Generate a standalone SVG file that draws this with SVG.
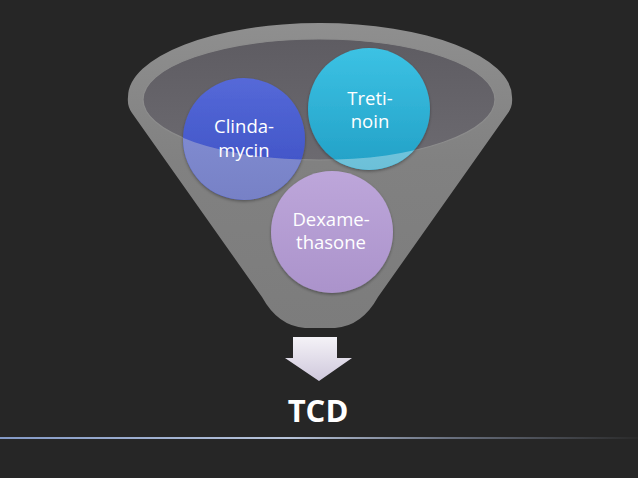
<svg xmlns="http://www.w3.org/2000/svg" width="638" height="478" viewBox="0 0 638 478">
<defs>
<linearGradient id="funnelG" x1="0" y1="23" x2="0" y2="330" gradientUnits="userSpaceOnUse">
<stop offset="0" stop-color="#8f8f8f"/><stop offset="0.45" stop-color="#818181"/><stop offset="1" stop-color="#7c7c7c"/>
</linearGradient>
<linearGradient id="innerG" x1="0" y1="0" x2="0" y2="1">
<stop offset="0" stop-color="#5e5c62"/><stop offset="1" stop-color="#6c6a70"/>
</linearGradient>
<linearGradient id="blueG" x1="0" y1="0" x2="0" y2="1">
<stop offset="0" stop-color="#5569d8"/><stop offset="1" stop-color="#3a4ec2"/>
</linearGradient>
<linearGradient id="blueW" x1="0" y1="0" x2="0" y2="1">
<stop offset="0" stop-color="#8793d8"/><stop offset="1" stop-color="#7781c6"/>
</linearGradient>
<linearGradient id="tealG" x1="0" y1="0" x2="0" y2="1">
<stop offset="0" stop-color="#3cc2e4"/><stop offset="1" stop-color="#22a0c6"/>
</linearGradient>
<linearGradient id="tealW" x1="0" y1="0" x2="0" y2="1">
<stop offset="0" stop-color="#86d2ea"/><stop offset="1" stop-color="#6cc0d8"/>
</linearGradient>
<linearGradient id="purpG" x1="0" y1="0" x2="0" y2="1">
<stop offset="0" stop-color="#bda6da"/><stop offset="1" stop-color="#ab93cb"/>
</linearGradient>
<linearGradient id="arrowG" x1="0" y1="0" x2="0" y2="1">
<stop offset="0" stop-color="#f4f2f7"/><stop offset="1" stop-color="#cfc8dc"/>
</linearGradient>
<linearGradient id="lineG" x1="0" y1="0" x2="638" y2="0" gradientUnits="userSpaceOnUse">
<stop offset="0" stop-color="#8399c6"/><stop offset="0.45" stop-color="#b8c4da"/><stop offset="0.7" stop-color="#6a7180"/><stop offset="1" stop-color="#2a2a2a"/>
</linearGradient>
<clipPath id="outsideInner">
<path clip-rule="evenodd" d="M0,0H638V478H0Z M143,99.5 A176,60.5 0 1 0 495,99.5 A176,60.5 0 1 0 143,99.5 Z"/>
</clipPath>
<filter id="sh" x="-20%" y="-20%" width="140%" height="140%">
<feDropShadow dx="0" dy="1.5" stdDeviation="1.5" flood-color="#000" flood-opacity="0.35"/>
</filter>
</defs>
<style>
.lbl{font-family:"Open Sans","Liberation Sans",sans-serif;font-size:18.5px;fill:#ffffff;text-anchor:middle}
.big{font-family:"Open Sans","Liberation Sans",sans-serif;font-size:31px;font-weight:bold;fill:#ffffff;text-anchor:middle}
</style>
<rect width="638" height="478" fill="#262626"/>

<g id="funnel">
<path d="M128,97 A192,74 0 0 1 512,97 Q513,106 508,113 L378,297 Q362,326 335,328 L305,328 Q278,326 262,297 L132,113 Q127,106 128,97 Z" fill="url(#funnelG)"/>
<ellipse cx="319" cy="99.5" rx="176" ry="60.5" fill="url(#innerG)" stroke="#8c8c8c" stroke-width="1.2"/>
</g>

<g id="clindamycin">
<circle cx="244" cy="139" r="61" fill="url(#blueG)" filter="url(#sh)"/>
<circle cx="244" cy="139" r="61" fill="url(#blueW)" clip-path="url(#outsideInner)"/>
<text class="lbl" x="244" y="133">Clinda-</text>
<text class="lbl" x="244" y="157">mycin</text>
</g>

<g id="tretinoin">
<circle cx="369" cy="109" r="61" fill="url(#tealG)" filter="url(#sh)"/>
<circle cx="369" cy="109" r="61" fill="url(#tealW)" clip-path="url(#outsideInner)"/>
<text class="lbl" x="370" y="105">Treti-</text>
<text class="lbl" x="370" y="128">noin</text>
</g>

<g id="dexamethasone">
<circle cx="332" cy="232" r="61" fill="url(#purpG)" filter="url(#sh)"/>
<text class="lbl" x="331" y="226">Dexame-</text>
<text class="lbl" x="331" y="249">thasone</text>
</g>

<g id="connectors">
<polygon points="293,337 337,337 337,358 352,358 319,381 285,358 293,358" fill="url(#arrowG)"/>
</g>

<g id="tcd">
<text class="big" x="318" y="422">TCD</text>
</g>

<rect x="0" y="437" width="638" height="2" fill="url(#lineG)"/>
</svg>
